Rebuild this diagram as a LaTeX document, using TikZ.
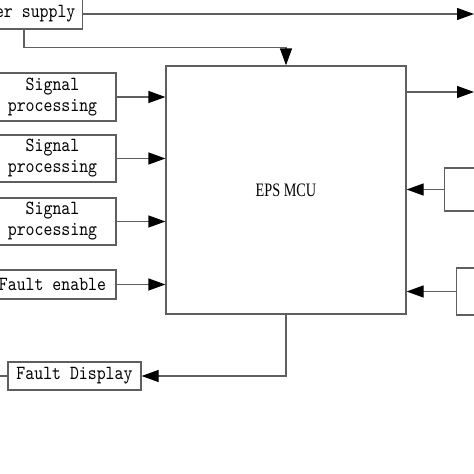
\documentclass[tikz,border=0pt]{standalone}
\usepackage{fontspec}
\usetikzlibrary{arrows.meta}
\newfontfamily\boxfont[FakeStretch=0.85]{lmmono10-regular.otf}
\newfontfamily\mcufont[FakeStretch=0.75]{Liberation Serif}
\definecolor{linegray}{RGB}{95,95,95}

\begin{document}
\begin{tikzpicture}[x=1pt,y=-1pt,
  box/.style={rectangle,draw=linegray,line width=1.2pt,inner sep=0pt,align=center,
    font={\boxfont\fontsize{20}{21}\selectfont}},
  link/.style={draw=linegray,line width=1.2pt,-{Triangle[length=17pt,width=12pt,color=black]}}]
\useasboundingbox (0,0) rectangle (474,474);
\clip (0,0) rectangle (474,474);
\node at (286,190) [box,minimum width=240,minimum height=248,font={\mcufont\fontsize{19}{21}\selectfont}] (mcu) {EPS MCU};
\node at (83,14) [box,anchor=east,inner xsep=7pt,minimum height=30] (pwr) {er supply};
\node at (52.5,97) [box,minimum width=127,minimum height=48] (sp1) {Signal\\processing};
\node at (52.5,158.5) [box,minimum width=127,minimum height=47] (sp2) {Signal\\processing};
\node at (52.5,221.5) [box,minimum width=127,minimum height=47] (sp3) {Signal\\processing};
\node at (52.5,284.5) [box,minimum width=127,minimum height=29] (fen) {Fault enable};
\node at (74.5,376) [box,minimum width=133,minimum height=28] (fdisp) {Fault Display};
\node at (444,189.5) [box,anchor=west,minimum width=60,minimum height=43] (in1) {};
\node at (456,291.5) [box,anchor=west,minimum width=60,minimum height=47] (in2) {};
\coordinate (tap) at (24,0);
\coordinate (pwrend) at (474,14);
\coordinate (outend) at (474,92);
\coordinate (fdend) at (-5,376);
\draw[link] (pwr) -- (pwrend);
\draw[link] (tap |- pwr.south) -- ++(0,18) -| (mcu.north);
\foreach \n in {sp1,sp2,sp3,fen}
  \draw[link] (\n) -- (\n -| mcu.west);
\draw[link] (mcu.east |- outend) -- (outend);
\draw[link] (in1) -- (in1 -| mcu.east);
\draw[link] (in2) -- (in2 -| mcu.east);
\draw[link] (mcu.south) |- (fdisp);
\draw[draw=linegray,line width=1.2pt] (fdisp) -- (fdend);
\end{tikzpicture}
\end{document}
